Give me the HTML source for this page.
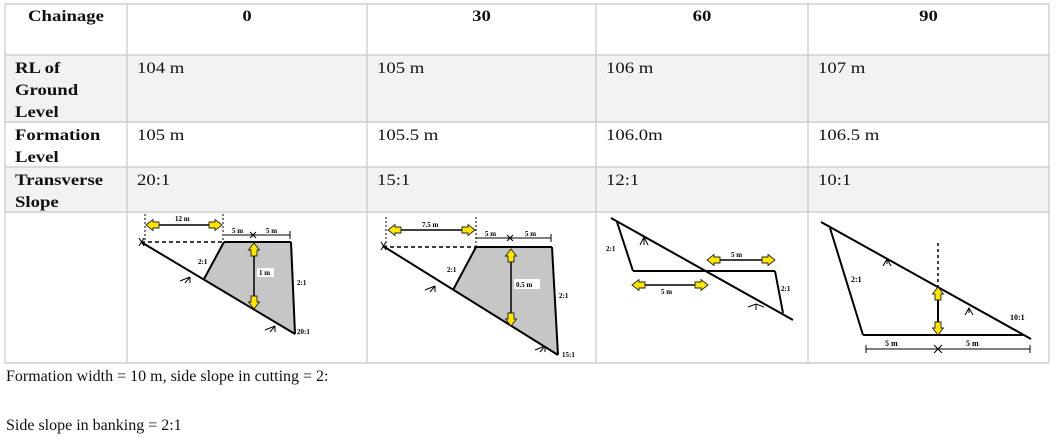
<!DOCTYPE html>
<html><head><meta charset="utf-8">
<style>
body{margin:0;width:1056px;height:440px;background:#fff;position:relative;overflow:hidden;font-family:"Liberation Serif",serif;color:#111}
.c{position:absolute;font-size:16px;line-height:22px;transform:scaleX(1.17);transform-origin:0 0;white-space:nowrap}
.h{transform-origin:50% 0}
.b{font-weight:bold}
.t{position:absolute;font-size:16px;line-height:20px;white-space:nowrap}
</style></head><body>
<svg width="1056" height="440" style="position:absolute;left:0;top:0">
<rect x="5" y="55" width="1044" height="67" fill="#f2f2f2"/>
<rect x="5" y="167" width="1044" height="45" fill="#f2f2f2"/>
<g stroke="#c8c8c8" stroke-width="1.2" fill="none">
<line x1="5" y1="4" x2="1049" y2="4"/><line x1="5" y1="55" x2="1049" y2="55"/><line x1="5" y1="122" x2="1049" y2="122"/><line x1="5" y1="167" x2="1049" y2="167"/><line x1="5" y1="212" x2="1049" y2="212"/><line x1="5" y1="363" x2="1049" y2="363"/>
<line x1="5" y1="4" x2="5" y2="363"/><line x1="127" y1="4" x2="127" y2="363"/><line x1="367" y1="4" x2="367" y2="363"/><line x1="596" y1="4" x2="596" y2="363"/><line x1="808" y1="4" x2="808" y2="363"/><line x1="1049" y1="4" x2="1049" y2="363"/>
</g>
</svg>
<div class="c b h" style="left:5px;width:122px;top:6px;text-align:center">Chainage</div>
<div class="c b h" style="left:127px;width:240px;top:6px;text-align:center">0</div>
<div class="c b h" style="left:367px;width:229px;top:6px;text-align:center">30</div>
<div class="c b h" style="left:596px;width:212px;top:6px;text-align:center">60</div>
<div class="c b h" style="left:808px;width:241px;top:6px;text-align:center">90</div>
<div class="c b" style="left:15px;top:58px">RL of<br>Ground<br>Level</div>
<div class="c b" style="left:15px;top:125px">Formation<br>Level</div>
<div class="c b" style="left:15px;top:170px">Transverse<br>Slope</div>
<div class="c" style="left:137px;top:58px">104 m</div>
<div class="c" style="left:377px;top:58px">105 m</div>
<div class="c" style="left:606px;top:58px">106 m</div>
<div class="c" style="left:818px;top:58px">107 m</div>
<div class="c" style="left:137px;top:125px">105 m</div>
<div class="c" style="left:377px;top:125px">105.5 m</div>
<div class="c" style="left:606px;top:125px">106.0m</div>
<div class="c" style="left:818px;top:125px">106.5 m</div>
<div class="c" style="left:137px;top:170px">20:1</div>
<div class="c" style="left:377px;top:170px">15:1</div>
<div class="c" style="left:606px;top:170px">12:1</div>
<div class="c" style="left:818px;top:170px">10:1</div>

<svg width="1056" height="440" style="position:absolute;left:0;top:0" font-family="Liberation Serif, serif" font-weight="bold" font-size="7">
<defs>
<g id="hl"><polygon points="0,0 7,-5.5 7,-3 13,-3 13,3 7,3 7,5.5" fill="#ffe600" stroke="#222" stroke-width="0.9"/></g>
</defs>
<!-- Diagram 0 -->
<g>
<polygon points="224,242 291,242 295,334 204,279" fill="#c6c6c6"/>
<g stroke="#000" stroke-width="2" fill="none">
<line x1="141" y1="242" x2="295" y2="334"/><line x1="224" y1="242" x2="291" y2="242"/><line x1="224" y1="242" x2="204" y2="279"/><line x1="291" y1="242" x2="295" y2="334"/>
</g>
<line x1="141" y1="242" x2="224" y2="242" stroke="#000" stroke-width="1.5" stroke-dasharray="4,3"/>
<g stroke="#000" stroke-width="1" stroke-dasharray="2,2"><line x1="145" y1="214" x2="145" y2="242"/><line x1="223" y1="214" x2="223" y2="242"/></g>
<line x1="150" y1="225" x2="218" y2="225" stroke="#000" stroke-width="1.5"/>
<use href="#hl" transform="translate(146,225)"/><use href="#hl" transform="translate(222,225) rotate(180)"/>
<text x="175" y="221">12 m</text>
<line x1="224" y1="235" x2="290" y2="235" stroke="#000"/><line x1="290" y1="231" x2="290" y2="239" stroke="#000"/>
<text x="232" y="233">5 m</text><text x="266" y="233">5 m</text>
<path d="M250,232 l6,6 M250,238 l6,-6" stroke="#000" fill="none"/>
<line x1="254" y1="252" x2="254" y2="300" stroke="#000" stroke-width="1.5"/>
<use href="#hl" transform="translate(254,243) rotate(90)"/><use href="#hl" transform="translate(254,309) rotate(-90)"/>
<rect x="257" y="268" width="17" height="9" fill="#fff"/><text x="259" y="275">1 m</text>
<text x="198" y="264">2:1</text><text x="297" y="285">2:1</text><text x="297" y="334">20:1</text>
<path d="M180,281 l10,-4 M185,283 l5,-6 M190,277 l0,6" stroke="#000" fill="none"/>
<path d="M265,330 l10,-4 M270,332 l5,-6 M275,326 l0,6" stroke="#000" fill="none"/>
<path d="M139,238 l5,8 M139,246 l5,-8" stroke="#000" fill="none"/>
</g>
<!-- Diagram 30 -->
<g>
<polygon points="476,247 552,247 558,355 453,290" fill="#c6c6c6"/>
<g stroke="#000" stroke-width="2" fill="none">
<line x1="383" y1="246" x2="558" y2="355"/><line x1="476" y1="247" x2="552" y2="247"/><line x1="476" y1="247" x2="453" y2="290"/><line x1="552" y1="247" x2="558" y2="355"/>
</g>
<line x1="383" y1="247" x2="476" y2="247" stroke="#000" stroke-width="1.5" stroke-dasharray="4,3"/>
<g stroke="#000" stroke-width="1" stroke-dasharray="2,2"><line x1="386" y1="217" x2="386" y2="247"/><line x1="476" y1="217" x2="476" y2="247"/></g>
<line x1="392" y1="230" x2="470" y2="230" stroke="#000" stroke-width="1.5"/>
<use href="#hl" transform="translate(388,230)"/><use href="#hl" transform="translate(475,230) rotate(180)"/>
<text x="422" y="227">7.5 m</text>
<line x1="476" y1="238" x2="551" y2="238" stroke="#000"/><line x1="551" y1="234" x2="551" y2="242" stroke="#000"/>
<text x="485" y="236">5 m</text><text x="525" y="236">5 m</text>
<path d="M507,235 l6,6 M507,241 l6,-6" stroke="#000" fill="none"/>
<line x1="511" y1="258" x2="511" y2="316" stroke="#000" stroke-width="1.5"/>
<use href="#hl" transform="translate(511,249) rotate(90)"/><use href="#hl" transform="translate(511,326) rotate(-90)"/>
<rect x="514" y="279" width="26" height="10" fill="#fff"/><text x="516" y="287">0.5 m</text>
<text x="447" y="272">2:1</text><text x="559" y="298">2:1</text><text x="562" y="357">15:1</text>
<path d="M425,290 l10,-4 M430,292 l5,-6 M435,286 l0,6" stroke="#000" fill="none"/>
<path d="M535,350 l10,-4 M540,352 l5,-6 M545,346 l0,6" stroke="#000" fill="none"/>
<path d="M381,242 l5,8 M381,250 l5,-8" stroke="#000" fill="none"/>
</g>
<!-- Diagram 60 -->
<g>
<g stroke="#000" stroke-width="2" fill="none">
<line x1="611" y1="218" x2="793" y2="320"/><line x1="617" y1="222" x2="633" y2="271"/><line x1="633" y1="271" x2="775" y2="271"/><line x1="775" y1="271" x2="783" y2="313"/>
</g>
<line x1="716" y1="260" x2="766" y2="260" stroke="#000" stroke-width="1.5"/>
<use href="#hl" transform="translate(707,260)"/><use href="#hl" transform="translate(775,260) rotate(180)"/>
<line x1="640" y1="285" x2="700" y2="285" stroke="#000" stroke-width="1.5"/>
<use href="#hl" transform="translate(632,285)"/><use href="#hl" transform="translate(708,285) rotate(180)"/>
<text x="731" y="257">5 m</text><text x="661" y="294">5 m</text>
<text x="606" y="251">2:1</text><text x="781" y="291">2:1</text>
<path d="M640,245 l4,-8 l4,8 M644,237 l0,8" stroke="#000" fill="none"/>
<path d="M748,307 l8,-3 l8,3 M756,304 l0,6" stroke="#000" fill="none"/>
</g>
<!-- Diagram 90 -->
<g>
<g stroke="#000" stroke-width="2" fill="none">
<line x1="821" y1="222" x2="1031" y2="339"/><line x1="830" y1="228" x2="863" y2="335"/><line x1="863" y1="335" x2="1023" y2="335"/>
</g>
<line x1="938" y1="243" x2="938" y2="287" stroke="#000" stroke-width="1.5" stroke-dasharray="3,3"/>
<line x1="938" y1="298" x2="938" y2="326" stroke="#000" stroke-width="2"/>
<use href="#hl" transform="translate(938,287) rotate(90)"/><use href="#hl" transform="translate(938,335) rotate(-90)"/>
<line x1="866" y1="349" x2="1030" y2="349" stroke="#000"/><line x1="866" y1="345" x2="866" y2="353" stroke="#000"/><line x1="1030" y1="345" x2="1030" y2="353" stroke="#000"/>
<path d="M934,345 l8,8 M934,353 l8,-8" stroke="#000" fill="none"/>
<text x="885" y="346" font-size="8">5 m</text><text x="966" y="346" font-size="8">5 m</text>
<text x="851" y="282" font-size="8">2:1</text><text x="1010" y="320" font-size="8">10:1</text>
<path d="M883,266 l4,-7 l4,7 M887,259 l0,5" stroke="#000" fill="none"/>
<path d="M965,315 l4,-7 l4,7 M969,308 l0,5" stroke="#000" fill="none"/>
</g>
</svg>
<div class="t" style="left:6px;top:367px">Formation width = 10 m, side slope in cutting = 2:</div>
<div class="t" style="left:6px;top:416px">Side slope in banking = 2:1</div>
</body></html>
